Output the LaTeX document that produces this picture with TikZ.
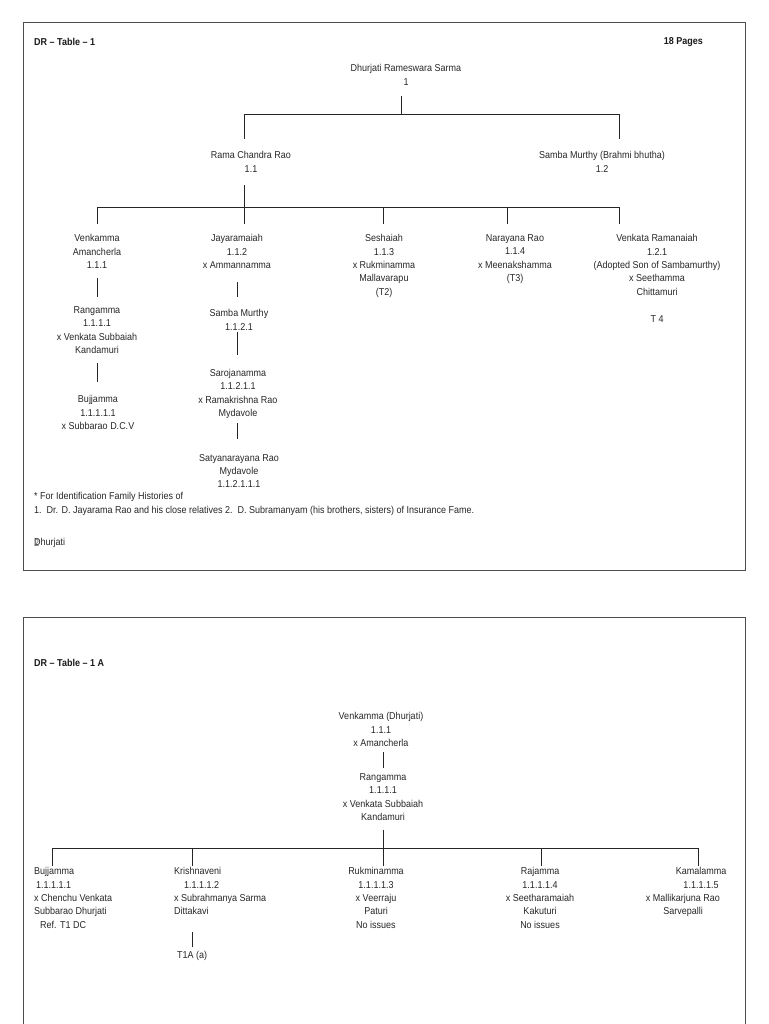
\documentclass[tikz,border=0pt]{standalone}
\usepackage{fontspec}
\setmainfont{Liberation Sans}[FakeStretch=0.9]

\tikzset{
  person/.style={align=center, inner sep=0pt, anchor=north, text=black!85,
    font=\fontsize{10}{13.4}\selectfont},
  note/.style={inner sep=0pt, anchor=west, text=black!85,
    font=\fontsize{10}{13.4}\selectfont},
  title/.style={inner sep=0pt, text=black!90,
    font=\fontsize{10}{12}\selectfont\bfseries},
  tree/.style={line width=0.8pt, black!85},
  frame/.style={line width=1pt, black!70}
}

\begin{document}
\begin{tikzpicture}[x=1pt, y=-1pt]
\useasboundingbox (0,0) rectangle (768,1024);

% Rahmen
\draw[frame] (23,23) rectangle (745,570);
\draw[frame] (23,1024) -- (23,617) -- (745,617) -- (745,1024);

% ---------------- Table 1 ----------------
\node[title, anchor=west] (title1) at (34,42) {DR – Table – 1};
\node[title, anchor=east] (pages) at (703,42) {18 Pages};

\node[person] (root) at (406,64.3) {Dhurjati Rameswara Sarma\\1};
\node[person] (rama) at (251,151.3) {Rama Chandra Rao\\1.1};
\node[person] (samba) at (602,151.3) {Samba Murthy (Brahmi bhutha)\\1.2};

\coordinate (bar1) at (401,114);
\coordinate (rama-top) at (244,139);
\coordinate (samba-top) at (619,139);
\draw[tree, shorten <=10.4pt] (root.south -| bar1) -- (bar1);
\draw[tree] (rama-top) -- (rama-top |- bar1) -- (samba-top |- bar1) -- (samba-top);

% Kinder von Rama Chandra Rao
\node[person] (venk) at (97,234.3) {Venkamma\\Amancherla\\1.1.1};
\node[person] (jaya) at (237,234.3) {Jayaramaiah\\1.1.2\\x Ammannamma};
\node[person] (sesh) at (384,234.3) {Seshaiah\\1.1.3\\x Rukminamma\\Mallavarapu\\(T2)};
\node[person] (nara) at (515,234.3) {Narayana Rao\\1.1.4\\x Meenakshamma\\(T3)};
\node[person] (venr) at (657,234.3) {Venkata Ramanaiah\\1.2.1\\(Adopted Son of Sambamurthy)\\x Seethamma\\Chittamuri\\[13.4pt]T 4};

\coordinate (bar2) at (244,207);
\coordinate (venk-top) at (97,224);
\coordinate (jaya-top) at (244,224);
\coordinate (sesh-top) at (383,224);
\coordinate (nara-top) at (507,224);
\coordinate (venr-top) at (619,224);
\draw[tree, shorten <=12.7pt] (rama.south -| bar2) -- (bar2);
\draw[tree] (venk-top) -- (venk-top |- bar2) -- (venr-top |- bar2) -- (venr-top);
\foreach \c in {jaya, sesh, nara}
  \draw[tree] (\c-top |- bar2) -- (\c-top);

% Linie Venkamma
\node[person] (rang) at (97,306.3) {Rangamma\\1.1.1.1\\x Venkata Subbaiah\\Kandamuri};
\node[person] (bujj) at (98,395.3) {Bujjamma\\1.1.1.1.1\\x Subbarao D.C.V};
\draw[tree, shorten <=9.4pt, shorten >=9.3pt] (venk.south) -- (venk.south |- rang.north);
\draw[tree, shorten <=9.2pt, shorten >=13.3pt] (rang.south) -- (rang.south |- bujj.north);

% Linie Jayaramaiah
\node[person] (sambm) at (239,309.3) {Samba Murthy\\1.1.2.1};
\node[person] (saroj) at (238,369) {Sarojanamma\\1.1.2.1.1\\x Ramakrishna Rao\\Mydavole};
\node[person] (satya) at (239,454) {Satyanarayana Rao\\Mydavole\\1.1.2.1.1.1};
\draw[tree, shorten <=13.4pt, shorten >=12.3pt] (jaya.south) -- (jaya.south |- sambm.north);
\draw[tree, shorten <=2pt, shorten >=14pt] (sambm.south -| jaya.south) -- (saroj.north -| jaya.south);
\draw[tree, shorten <=4.3pt, shorten >=15pt] (saroj.south -| jaya.south) -- (satya.north -| jaya.south);

% Fussnote
\node[note] (fn1) at (34,497) {* For Identification Family Histories of};
\node[note] (fn2) at (34,511) {1.\ \ Dr. D. Jayarama Rao and his close relatives 2.\ \ D. Subramanyam (his brothers, sisters) of Insurance Fame.};
\node[note] (sig) at (34,543) {Dhurjati};
\node[note, text=black!60] (sig2) at (sig.west) {2};

% ---------------- Table 1 A ----------------
\node[title, anchor=west] (title2) at (34,663) {DR – Table – 1 A};

\node[person] (vd) at (381,712.3) {Venkamma (Dhurjati)\\1.1.1\\x Amancherla};
\node[person] (rang2) at (383,773.3) {Rangamma\\1.1.1.1\\x Venkata Subbaiah\\Kandamuri};
\draw[tree, shorten <=5.6pt, shorten >=5.3pt] (vd.south -| rang2.north) -- (rang2.north);

\coordinate (bar3) at (383,848);
\coordinate (bujj2-top) at (52,866);
\coordinate (krish-top) at (192,866);
\coordinate (rukm-top) at (383,866);
\coordinate (raja-top) at (541,866);
\coordinate (kama-top) at (698,866);
\draw[tree, shorten <=9pt] (rang2.south -| bar3) -- (bar3);
\draw[tree] (bujj2-top) -- (bujj2-top |- bar3) -- (kama-top |- bar3) -- (kama-top);
\foreach \c in {krish, rukm, raja}
  \draw[tree] (\c-top |- bar3) -- (\c-top);

% Kinder von Rangamma
\node[person, align=left, anchor=north west] (bujj2) at (34,867.3)
  {Bujjamma\\\hspace*{2pt}1.1.1.1.1\\x Chenchu Venkata\\Subbarao Dhurjati\\\hspace*{6pt}Ref. T1 DC};
\node[person, align=left, anchor=north west] (krish) at (174,867.3)
  {Krishnaveni\\\hspace*{10pt}1.1.1.1.2\\x Subrahmanya Sarma\\Dittakavi};
\node[person] (rukm) at (376,867.3) {Rukminamma\\1.1.1.1.3\\x Veerraju\\Paturi\\No issues};
\node[person] (raja) at (540,867.3) {Rajamma\\1.1.1.1.4\\x Seetharamaiah\\Kakuturi\\No issues};
\node[person] (kama) at (683,867.3) {\hspace*{36pt}Kamalamma\\\hspace*{36pt}1.1.1.1.5\\x Mallikarjuna Rao\\Sarvepalli};

\node[person, anchor=north west] (t1a) at (177,951.3) {T1A (a)};
\draw[tree, shorten <=17pt, shorten >=4pt] (krish.south -| krish-top) -- (t1a.north -| krish-top);

\end{tikzpicture}
\end{document}
